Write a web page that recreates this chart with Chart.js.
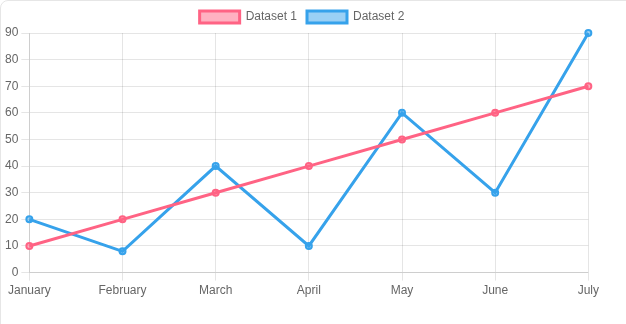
<!DOCTYPE html>
<html>
<head>
<meta charset="utf-8">
<script src="https://cdn.jsdelivr.net/npm/chart.js@4/dist/chart.umd.min.js"></script>
<style>
  html, body { margin: 0; padding: 0; background: #fff; }
  #box { position: absolute; left: 0; top: 0; width: 700px; height: 400px; border: 1px solid #e6e6e6; border-radius: 8px; box-sizing: border-box; }
  #wrap { position: absolute; left: 2px; top: 1px; width: 600px; height: 300px; }
</style>
</head>
<body>
<div id="box"></div>
<div id="wrap"><canvas id="c"></canvas></div>
<script>
const categories = ['January', 'February', 'March', 'April', 'May', 'June', 'July'];
const dataset1 = [10, 20, 30, 40, 50, 60, 70];
const dataset2 = [20, 8, 40, 10, 60, 30, 90];
const seriesNames = ['Dataset 1', 'Dataset 2'];

new Chart(document.getElementById('c'), {
  type: 'line',
  data: {
    labels: categories,
    datasets: [
      { label: seriesNames[0], data: dataset1, borderColor: 'rgb(255, 99, 132)', backgroundColor: 'rgba(255, 99, 132, 0.5)', borderWidth: 3, pointRadius: 3, pointBorderWidth: 2, tension: 0 },
      { label: seriesNames[1], data: dataset2, borderColor: 'rgb(54, 162, 235)', backgroundColor: 'rgba(54, 162, 235, 0.5)', borderWidth: 3, pointRadius: 3, pointBorderWidth: 2, tension: 0 }
    ]
  },
  options: {
    responsive: true,
    maintainAspectRatio: false,
    animation: false,
    plugins: { legend: { position: 'top' } },
    scales: { y: { beginAtZero: true } }
  }
});
</script>
</body>
</html>
